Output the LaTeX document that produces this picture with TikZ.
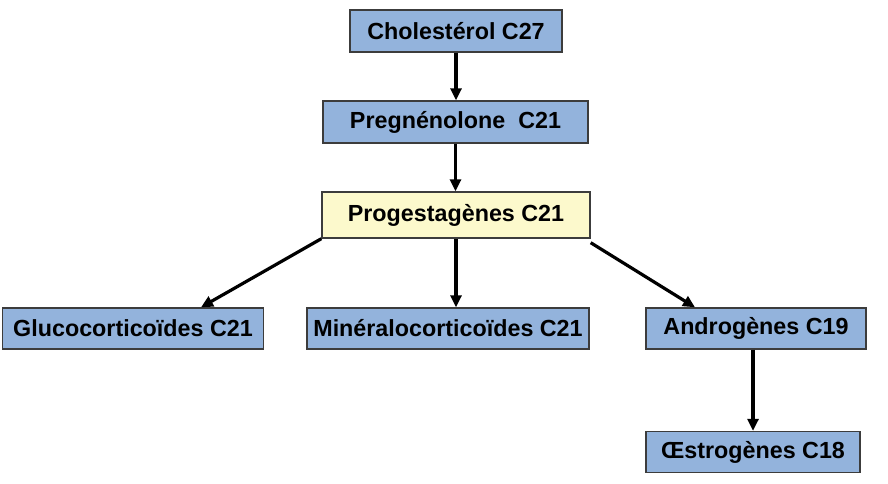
\documentclass[tikz,border=0pt]{standalone}
\usepackage{fontspec}
\setmainfont{Liberation Sans}
\usetikzlibrary{arrows.meta}
\definecolor{boxblue}{HTML}{93B3DC}
\definecolor{boxyellow}{HTML}{FCF9CC}
\definecolor{boxline}{HTML}{3C3C3C}
\begin{document}
\begin{tikzpicture}[x=1pt,y=-1pt,
  stepbox/.style={draw=boxline, line width=1.4pt, fill=boxblue, rectangle, inner sep=0pt,
    font=\fontsize{23.3}{27}\selectfont\bfseries, text=black},
  yellowbox/.style={stepbox, fill=boxyellow},
  arr/.style={line width=3.2pt, -{Triangle[length=12pt,width=11pt]}, black}]
\useasboundingbox (0,0) rectangle (888,483);
\fill[white] (0,0) rectangle (888,483);
\node[stepbox, minimum width=212pt, minimum height=42pt] (chol) at (456,31) {Cholestérol C27};
\node[stepbox, minimum width=265pt, minimum height=42pt] (preg) at (455.5,122) {Pregnénolone\ \ C21};
\node[yellowbox, minimum width=268pt, minimum height=46pt] (prog) at (456,215) {Progestagènes C21};
\node[stepbox, minimum width=261pt, minimum height=41pt] (gluco) at (133,328.5) {Glucocorticoïdes C21};
\node[stepbox, minimum width=282pt, minimum height=41pt] (mine) at (448,328.5) {Minéralocorticoïdes C21};
\node[stepbox, minimum width=220pt, minimum height=41pt] (andro) at (756,328.5) {Androgènes C19};
\node[stepbox, minimum width=214pt, minimum height=41pt] (oestro) at (753,452) {Œstrogènes C18};
\draw[arr] (chol.south) -- (chol.south |- preg.north);
\draw[arr] (preg.south) -- (preg.south |- prog.north);
\draw[arr] (prog.south west) -- ([xshift=68pt]gluco.north);
\draw[arr] (prog.south) -- (prog.south |- mine.north);
\draw[arr] ([yshift=-4pt]prog.south east) -- ([xshift=-61pt]andro.north);
\draw[arr] (oestro.north |- andro.south) -- (oestro.north);
\end{tikzpicture}
\end{document}
